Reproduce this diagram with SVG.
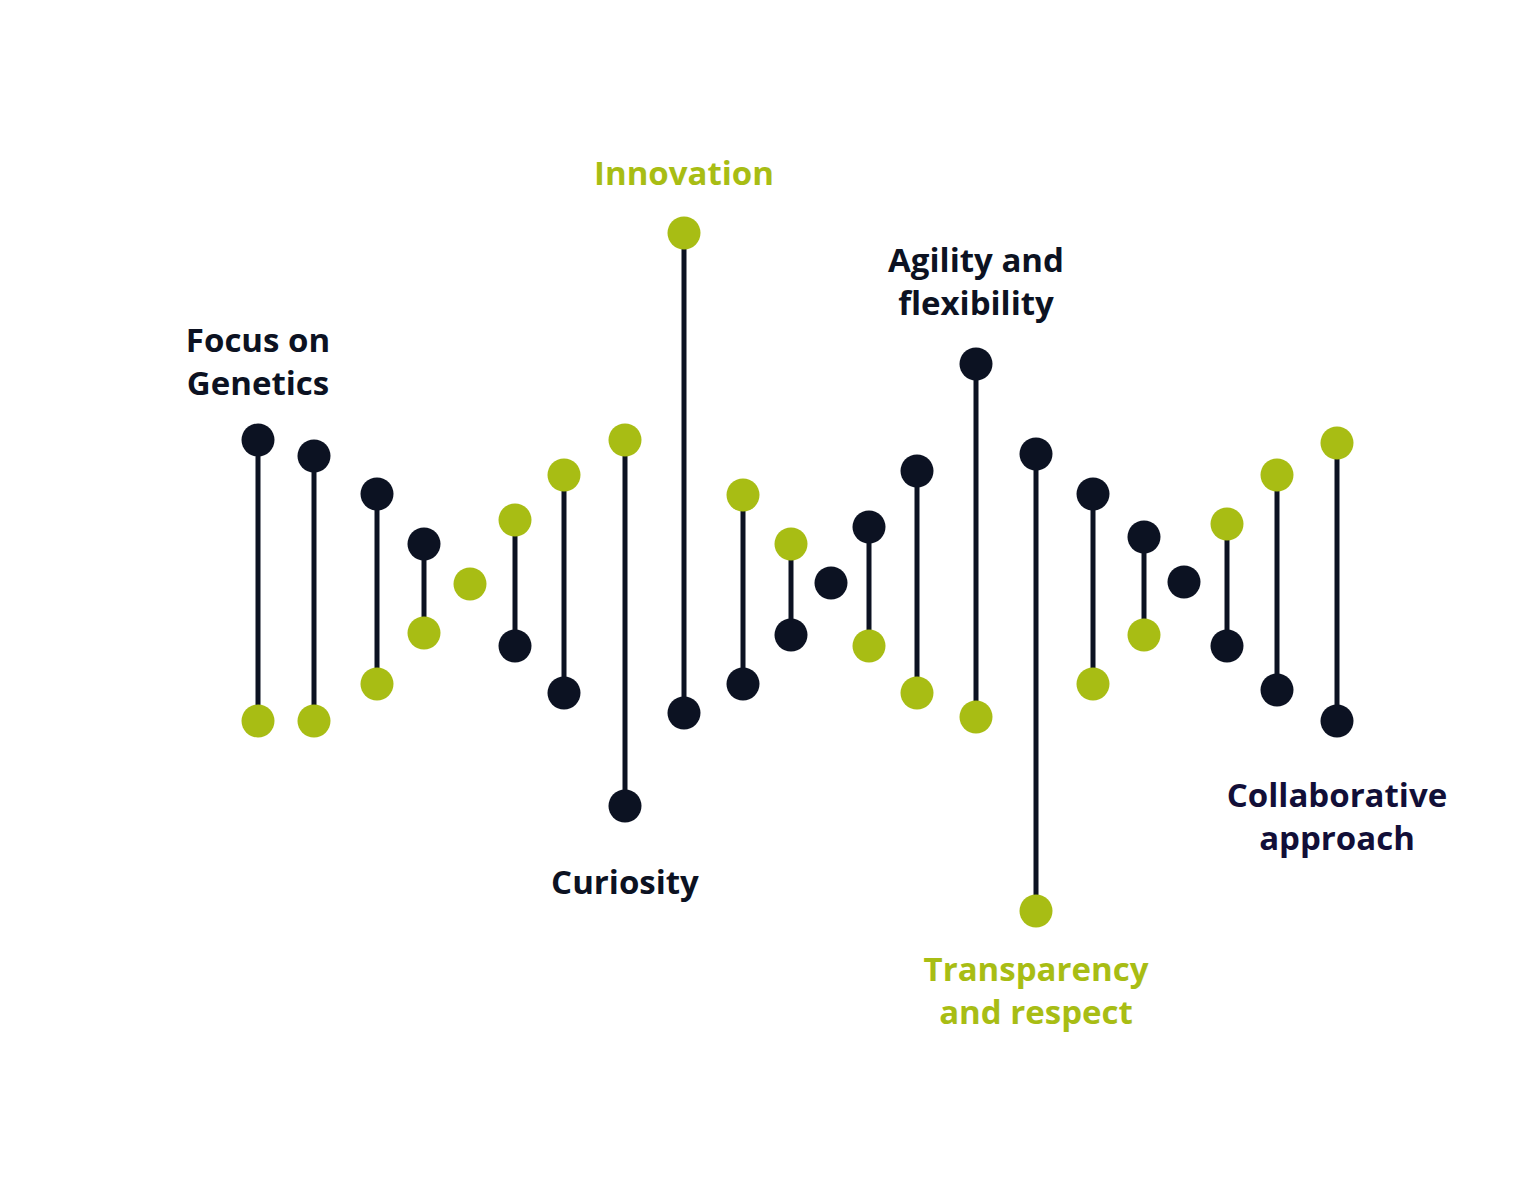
<svg xmlns="http://www.w3.org/2000/svg" width="1536" height="1190" viewBox="0 0 1536 1190">
<style>
.l{stroke:#0c1222;stroke-width:5}
.d{fill:#0c1222}
.g{fill:#a8bd14}
text{font-family:"Open Sans","Liberation Sans",sans-serif;font-weight:bold;font-size:33px;text-anchor:middle}
.td{fill:#0c1222}.tg{fill:#a8bd14}.tp{fill:#120f38}
</style>
<rect width="1536" height="1190" fill="#fff"/>
<g id="connectors">
<line class="l" x1="258" y1="440" x2="258" y2="721"/>
<line class="l" x1="314" y1="456" x2="314" y2="721"/>
<line class="l" x1="377" y1="494" x2="377" y2="684"/>
<line class="l" x1="424" y1="544" x2="424" y2="633"/>
<line class="l" x1="515" y1="520" x2="515" y2="646"/>
<line class="l" x1="564" y1="475" x2="564" y2="693"/>
<line class="l" x1="625" y1="440" x2="625" y2="806"/>
<line class="l" x1="684" y1="233" x2="684" y2="713"/>
<line class="l" x1="743" y1="495" x2="743" y2="684"/>
<line class="l" x1="791" y1="544" x2="791" y2="635"/>
<line class="l" x1="869" y1="527" x2="869" y2="646"/>
<line class="l" x1="917" y1="471" x2="917" y2="693"/>
<line class="l" x1="976" y1="364" x2="976" y2="717"/>
<line class="l" x1="1036" y1="454" x2="1036" y2="911"/>
<line class="l" x1="1093" y1="494" x2="1093" y2="684"/>
<line class="l" x1="1144" y1="537" x2="1144" y2="635"/>
<line class="l" x1="1227" y1="524" x2="1227" y2="646"/>
<line class="l" x1="1277" y1="475" x2="1277" y2="690"/>
<line class="l" x1="1337" y1="443" x2="1337" y2="721"/>
</g>
<g id="dots">
<circle class="d" cx="258" cy="440" r="16.5"/><circle class="g" cx="258" cy="721" r="16.5"/>
<circle class="d" cx="314" cy="456" r="16.5"/><circle class="g" cx="314" cy="721" r="16.5"/>
<circle class="d" cx="377" cy="494" r="16.5"/><circle class="g" cx="377" cy="684" r="16.5"/>
<circle class="d" cx="424" cy="544" r="16.5"/><circle class="g" cx="424" cy="633" r="16.5"/>
<circle class="g" cx="470" cy="584" r="16.5"/>
<circle class="g" cx="515" cy="520" r="16.5"/><circle class="d" cx="515" cy="646" r="16.5"/>
<circle class="g" cx="564" cy="475" r="16.5"/><circle class="d" cx="564" cy="693" r="16.5"/>
<circle class="g" cx="625" cy="440" r="16.5"/><circle class="d" cx="625" cy="806" r="16.5"/>
<circle class="g" cx="684" cy="233" r="16.5"/><circle class="d" cx="684" cy="713" r="16.5"/>
<circle class="g" cx="743" cy="495" r="16.5"/><circle class="d" cx="743" cy="684" r="16.5"/>
<circle class="g" cx="791" cy="544" r="16.5"/><circle class="d" cx="791" cy="635" r="16.5"/>
<circle class="d" cx="831" cy="583" r="16.5"/>
<circle class="d" cx="869" cy="527" r="16.5"/><circle class="g" cx="869" cy="646" r="16.5"/>
<circle class="d" cx="917" cy="471" r="16.5"/><circle class="g" cx="917" cy="693" r="16.5"/>
<circle class="d" cx="976" cy="364" r="16.5"/><circle class="g" cx="976" cy="717" r="16.5"/>
<circle class="d" cx="1036" cy="454" r="16.5"/><circle class="g" cx="1036" cy="911" r="16.5"/>
<circle class="d" cx="1093" cy="494" r="16.5"/><circle class="g" cx="1093" cy="684" r="16.5"/>
<circle class="d" cx="1144" cy="537" r="16.5"/><circle class="g" cx="1144" cy="635" r="16.5"/>
<circle class="d" cx="1184" cy="582" r="16.5"/>
<circle class="g" cx="1227" cy="524" r="16.5"/><circle class="d" cx="1227" cy="646" r="16.5"/>
<circle class="g" cx="1277" cy="475" r="16.5"/><circle class="d" cx="1277" cy="690" r="16.5"/>
<circle class="g" cx="1337" cy="443" r="16.5"/><circle class="d" cx="1337" cy="721" r="16.5"/>
</g>
<g id="labels">
<text class="td" x="258" y="352">Focus on</text>
<text class="td" x="258" y="395">Genetics</text>
<text class="tg" x="684" y="185">Innovation</text>
<text class="td" x="976" y="272">Agility and</text>
<text class="td" x="976" y="315">flexibility</text>
<text class="td" x="625" y="894">Curiosity</text>
<text class="tg" x="1036" y="981">Transparency</text>
<text class="tg" x="1036" y="1024">and respect</text>
<text class="tp" x="1337" y="807">Collaborative</text>
<text class="tp" x="1337" y="850">approach</text>
</g>
</svg>
